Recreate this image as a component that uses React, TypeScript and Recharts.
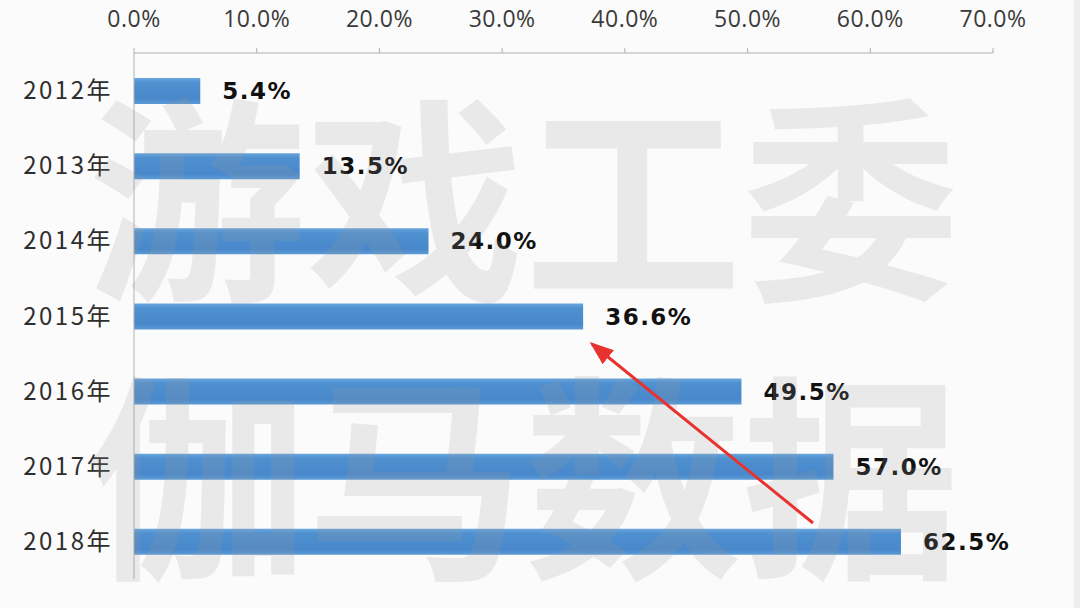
import React from 'react';
import { BarChart, Bar, XAxis, YAxis, LabelList } from 'recharts';

// 游戏工委 / 伽马数据 chart: share by year
const years = ['2012年', '2013年', '2014年', '2015年', '2016年', '2017年', '2018年'];
const shares = [5.4, 13.5, 24.0, 36.6, 49.5, 57.0, 62.5];
const xTicks = [0, 10, 20, 30, 40, 50, 60, 70];
const watermarkTop = '游戏工委';
const watermarkBottom = '伽马数据';

const chartData = years.map((year, i) => ({ year, share: shares[i] }));

const W = 1080;
const H = 608;

const App: React.FC = () => {
  return (
    <div style={{ position: 'relative', width: W, height: H, background: '#fbfbfb', overflow: 'hidden' }}>
      <style>{`body{margin:0}`}</style>
      <BarChart
        width={W}
        height={H}
        data={chartData}
        layout="vertical"
        margin={{ top: 0, right: 87, bottom: 29, left: 0 }}
        barCategoryGap={24}
      >
        <defs>
          <linearGradient id="barBlue" x1="0" y1="0" x2="0" y2="1">
            <stop offset="0%" stopColor="#6aa6dd" />
            <stop offset="18%" stopColor="#4f90d0" />
            <stop offset="80%" stopColor="#4888cb" />
            <stop offset="100%" stopColor="#5d9bd6" />
          </linearGradient>
        </defs>
        <XAxis
          type="number"
          orientation="top"
          domain={[0, 70]}
          ticks={xTicks}
          height={53}
          tickFormatter={(v: number) => `${v.toFixed(1)}%`}
          axisLine={{ stroke: '#b0b0b0' }}
          tickLine={{ stroke: '#b0b0b0' }}
          tickSize={5}
          tickMargin={21}
          tick={{ fill: '#3a3a3a', fontSize: 23, fontFamily: 'Open Sans', letterSpacing: 0.5 }}
        />
        <YAxis
          type="category"
          dataKey="year"
          width={134}
          axisLine={{ stroke: '#b0b0b0' }}
          tickLine={false}
          tickSize={0}
          tickMargin={21}
          tick={{ fill: '#2e2e2e', fontSize: 24, fontFamily: 'Noto Sans CJK SC', letterSpacing: 2.5 }}
        />
        <Bar dataKey="share" fill="url(#barBlue)" barSize={26} isAnimationActive={false}>
          <LabelList
            dataKey="share"
            position="right"
            offset={22}
            formatter={(v: number) => `${v.toFixed(1)}%`}
            style={{ fill: '#111', fontSize: 23, fontWeight: 700, fontFamily: 'DejaVu Sans', letterSpacing: 1.5 }}
          />
        </Bar>
      </BarChart>

      {/* watermark and red arrow annotation */}
      <svg
        width={W}
        height={H}
        style={{ position: 'absolute', left: 0, top: 0, pointerEvents: 'none' }}
      >
        <defs>
          <marker id="redHead" markerWidth="8" markerHeight="6" refX="7" refY="3" orient="auto" markerUnits="strokeWidth">
            <path d="M0,0 L8,3 L0,6 Z" fill="#e8322f" />
          </marker>
        </defs>
        <g fill="#9a9a9a" fillOpacity={0.18} fontFamily="Noto Sans CJK SC" fontWeight={700} fontSize={218}>
          <text x={88} y={284}>{watermarkTop}</text>
          <text x={88} y={562}>{watermarkBottom}</text>
        </g>
        <line x1={813} y1={523} x2={592} y2={344} stroke="#e8322f" strokeWidth={3} markerEnd="url(#redHead)" />
        <rect x={1074} y={0} width={6} height={H} fill="#eeeeee" />
      </svg>
    </div>
  );
};

export default App;
